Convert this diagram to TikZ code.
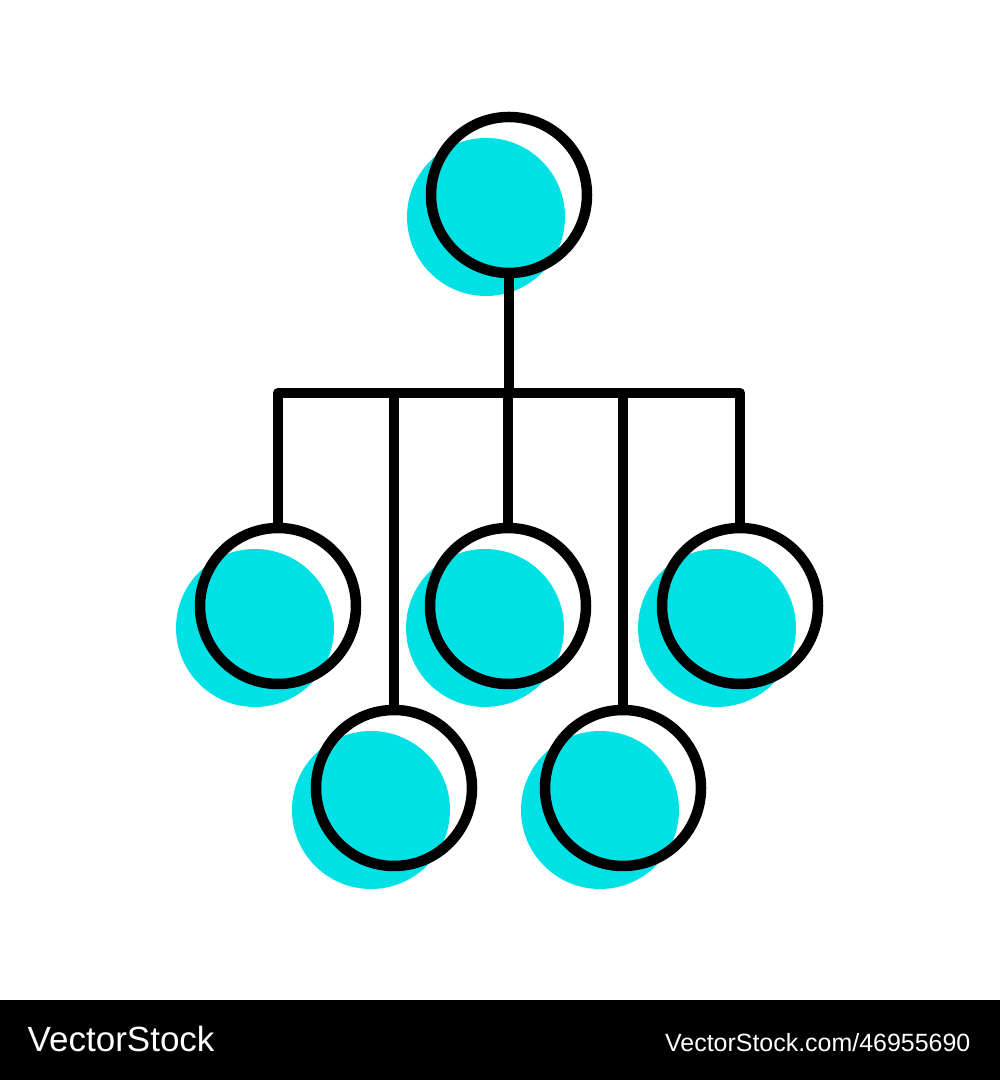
\documentclass[tikz,border=0pt]{standalone}
\usepackage{fontspec}
\setmainfont{Liberation Sans}
\usetikzlibrary{positioning,calc}
\definecolor{aqua}{HTML}{00E1E6}
\tikzset{
  rg/.style={circle, draw=black, line width=1.05mm, minimum size=1.56cm, inner sep=0pt},
  bl/.style={fill=aqua},
  ln/.style={line width=1.05mm, line join=round}
}

\begin{document}
\begin{tikzpicture}
	\useasboundingbox (0,0) rectangle (10,10.8);
	% circles with their cyan blobs
	\foreach \n/\x/\y in {root/5.09/8.85, c1/2.78/4.74, c2/5.08/4.74, c3/7.40/4.74, b1/3.94/2.92, b2/6.23/2.92}{
		\fill[bl] (\x-0.23,\y-0.22) circle (0.79);
		\node[rg] (\n) at (\x,\y) {};
	}
	\coordinate (bar) at (5.08,6.87);
	
	\draw[ln] (c1.north) -- (c1 |- bar) -- (c3 |- bar) -- (c3.north);
	\draw[ln] (root.south) -- (root |- bar);
	\draw[ln] (c2 |- bar) -- (c2.north);
	\draw[ln] (b1 |- bar) -- (b1.north);
	\draw[ln] (b2 |- bar) -- (b2.north);
	
	% footer
	\fill[black] (0,0) rectangle (10,0.8);
	\node[anchor=base west, inner sep=0pt, text=white] (brand) at (0.27,0.29) {\fontsize{9.96}{12}\selectfont VectorStock};
	\node[anchor=base east, inner sep=0pt, text=white] (ref) at (9.71,0.29) {\fontsize{7.1}{9}\selectfont VectorStock.com/46955690};
\end{tikzpicture}
\end{document}
